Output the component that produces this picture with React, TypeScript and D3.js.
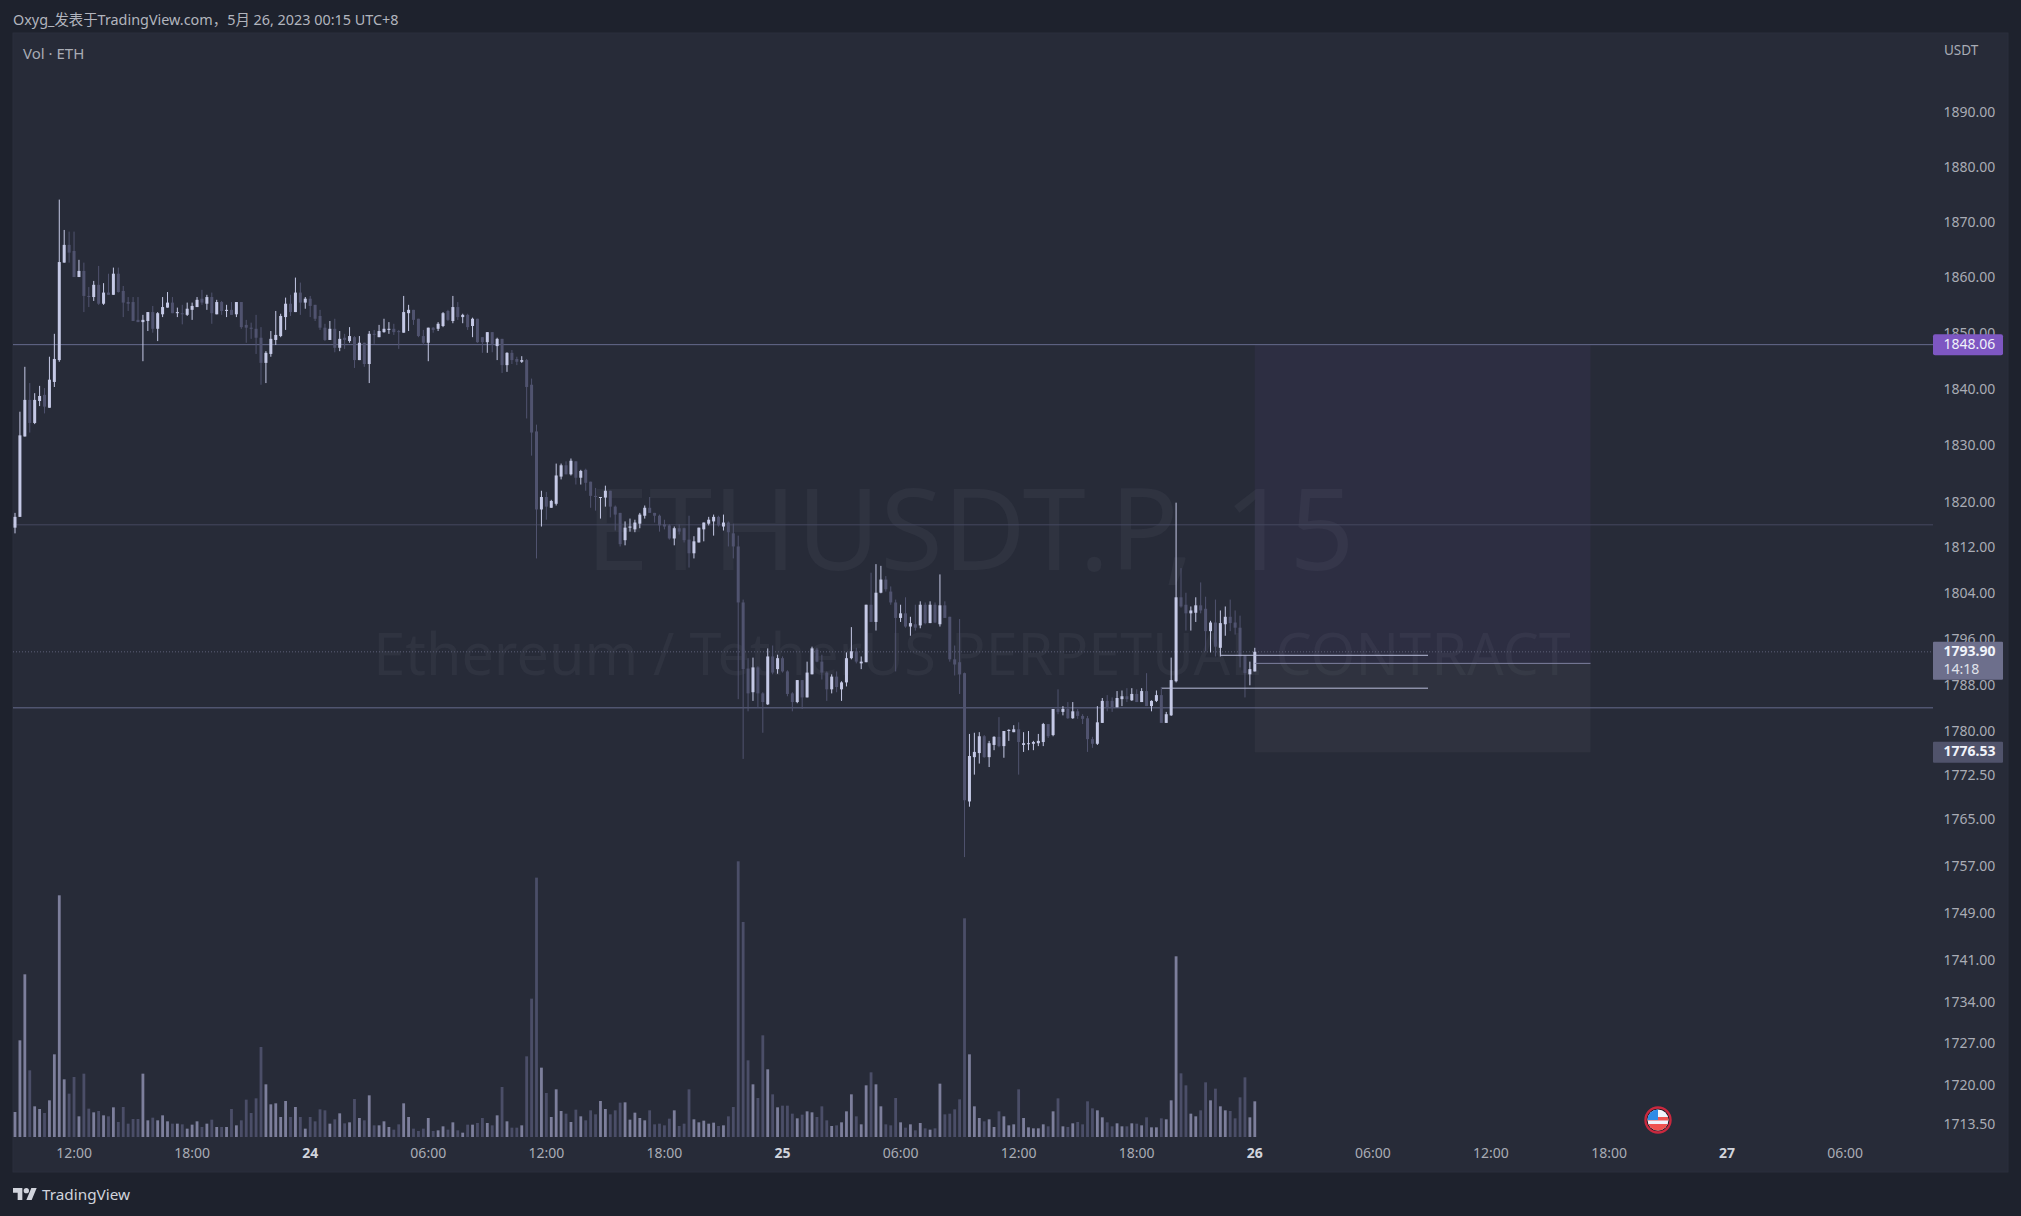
import React from 'react';
import * as d3 from 'd3';

const WIDTH = 2021;
const HEIGHT = 1216;

// ETHUSDT.P 15m candles
const opens = [
  1815.6,1817.5,1831.7,1838.2,1834.1,1838.0,1839.1,1836.8,1841.4,1845.3,
  1862.8,1866,1864.9,1860.2,1861.3,1856.8,1856.6,1858.8,1855.4,1857.4,
  1857,1860.8,1857.7,1855.7,1855.7,1852.5,1852.1,1852.3,1853.9,1850.9,
  1853.5,1854.7,1855.6,1853.7,1853.7,1853.4,1854.3,1854.8,1856.3,1855.4,
  1856.6,1853.5,1855.7,1854.1,1854.3,1853.5,1855.7,1851.6,1851.1,1850.9,
  1849.3,1844.8,1846.4,1848.9,1849.6,1853,1855.4,1853.9,1857.4,1855.6,
  1856.3,1855.2,1853.2,1851.1,1848.9,1850.9,1847.5,1849.3,1848.7,1849.4,
  1845.3,1848.4,1844.6,1850,1849.4,1850.3,1850.7,1850.9,1850.5,1850.2,
  1853.7,1854.3,1852.7,1849.6,1848.4,1851.1,1850.9,1851.4,1854.1,1852.3,
  1854.8,1853,1853.4,1851.4,1852.7,1849.4,1848.5,1850.3,1847.8,1849.1,
  1844.4,1846.6,1845.5,1845,1845.3,1840.9,1832.6,1818.8,1821,1819.1,
  1819.8,1824.6,1826.6,1825,1827.3,1824.4,1825.8,1823.7,1821.2,1820.9,
  1820.9,1822.1,1819.3,1818.2,1813.4,1815.6,1815.3,1816.3,1817.7,1819.1,
  1818.2,1817.7,1816.2,1816,1813.7,1815.5,1815.5,1813.5,1811.1,1813,
  1815.3,1816.3,1816.7,1817.5,1815.8,1816.5,1814.6,1812.3,1802.5,1791,
  1786.9,1791.2,1786.7,1784.8,1793.1,1790.9,1792.8,1790.5,1786.7,1785.2,
  1789,1786,1790,1794.3,1792.2,1790.3,1787.4,1789.6,1787.4,1788.6,
  1792.8,1794,1791.9,1792.1,1802.1,1799.1,1804.2,1806.5,1804.4,1802.5,
  1799.8,1800.6,1798.3,1798.7,1798.5,1802.1,1798.9,1802.1,1798.7,1802,
  1800,1792.6,1792.1,1790.2,1768.1,1775.7,1776.4,1779.3,1775.7,1777.8,
  1779.2,1777.6,1780.2,1780,1780.5,1777.8,1778,1778,1778.1,1778.3,
  1781.4,1779.5,1784,1783.5,1784,1782.4,1783.6,1782.8,1782.4,1778.8,
  1778,1781.6,1785.4,1785.4,1784.3,1785.7,1786.2,1785.5,1786.6,1785.2,
  1787.1,1784.5,1785.4,1786.4,1781.6,1782.9,1788.8,1803.4,1802.1,1800.6,
  1800.7,1802,1801.4,1797.5,1799,1794.6,1798.7,1800,1799,1798.1,
  1793.3,1790,1790.5,
];

const closes = [
  1817.5,1831.9,1838.2,1834.1,1838.2,1838.9,1837,1841.8,1845.5,1862.9,
  1866,1864.6,1860.2,1861.3,1856.8,1856.6,1858.8,1855.4,1857.4,1857,
  1860.8,1857.5,1855.6,1855.4,1852.3,1852.1,1852.5,1853.9,1850.9,1853.7,
  1854.8,1855.6,1853.7,1853.9,1853.5,1854.5,1855,1856.1,1855.6,1856.6,
  1853.7,1855.7,1854.1,1854.3,1853.4,1855.7,1851.2,1851.1,1850.9,1849.3,
  1844.8,1846.6,1849.1,1849.8,1853.2,1855.4,1853.9,1857.4,1855.6,1856.3,
  1855,1852.7,1851.1,1848.9,1850.9,1847.5,1849.1,1848.9,1849.6,1845.3,
  1848.4,1844.6,1850,1849.8,1850.5,1850.9,1850.9,1850.3,1850.3,1853.9,
  1854.3,1852.5,1849.6,1848.4,1851.1,1850.7,1851.8,1853.7,1852.5,1854.8,
  1853,1853.4,1851.2,1852.7,1848.5,1848.5,1850.3,1848.2,1849.1,1844.4,
  1846.6,1845.3,1845,1845.3,1840.5,1832.4,1818.8,1821,1819.3,1820.3,
  1824.8,1826.6,1825,1827.4,1824.4,1825.6,1823.5,1821.2,1821,1821,
  1822.1,1819.3,1817.9,1812.7,1815.6,1815.8,1816.5,1817.9,1819.1,1818.2,
  1817.7,1816,1815.8,1813.7,1815.5,1814.9,1813.4,1811.1,1813.2,1815.6,
  1816.5,1817,1817.5,1816,1816.5,1814.8,1812.3,1802.5,1790.9,1786.7,
  1791.2,1786.7,1785.2,1793.1,1790.3,1792.8,1790.5,1786.6,1785.2,1789,
  1786,1790.3,1794.5,1792.2,1790.3,1787.4,1789.6,1787.8,1788.6,1792.8,
  1794,1792.2,1792.2,1802.1,1799.1,1804.2,1806.5,1804.8,1802.5,1799.8,
  1800.6,1798.3,1798.9,1798.1,1802.1,1798.9,1802.1,1799,1802,1799.8,
  1792.6,1791.7,1790,1768.3,1775.9,1776.6,1779.3,1775.7,1778.1,1779.2,
  1777.6,1780.2,1780.4,1780.5,1778.3,1778.1,1778.1,1778.3,1778.5,1781.4,
  1779.3,1784,1783.5,1784,1782.4,1783.6,1782.8,1782.3,1778.8,1778,
  1781.7,1785.4,1784.3,1784.3,1785.9,1786.2,1785.7,1786.6,1785.2,1787.1,
  1784.5,1785.4,1786.4,1781.6,1783.1,1789,1803.4,1801.8,1800.6,1801.1,
  1802,1801.1,1797.5,1799,1794.8,1798.9,1800,1798.9,1798.1,1793.1,
  1790.2,1790.9,1793.9,
];

const highs = [
  1818.2,1836.1,1844.1,1841.2,1839.4,1840.7,1840.3,1845.9,1850,1874.2,
  1868.7,1868.4,1868.4,1863.3,1862.8,1858.4,1859.5,1862.2,1859.1,1860.8,
  1861.9,1861.9,1858.6,1856.6,1856.6,1856.6,1853.4,1853.9,1855,1853.9,
  1856.6,1857.5,1856.6,1854.7,1855.2,1855.6,1855.6,1856.6,1857.9,1857,
  1857.4,1856.1,1855.9,1855.2,1855.7,1855.7,1855.7,1852.5,1852,1853.4,
  1851.2,1846.9,1850.5,1854.1,1853.6,1856.5,1857,1860.1,1859.2,1856.6,
  1856.8,1855.2,1854.3,1851.8,1852.3,1852.7,1850.5,1850,1851.2,1849.6,
  1849.6,1848.4,1850.5,1850.7,1851.6,1852.7,1852.1,1851.8,1850.7,1856.8,
  1855.2,1854.3,1852.7,1850.7,1851.1,1851.2,1852.1,1853.9,1854.3,1856.8,
  1855.7,1853.6,1853.6,1852.9,1852.7,1849.4,1850.3,1850.3,1849.3,1849.1,
  1846.7,1847.1,1845.9,1846,1845.5,1842,1833.8,1822.1,1821.9,1820.5,
  1826.9,1826.9,1827.3,1827.8,1827.3,1825.8,1826,1823.7,1822.6,1821,
  1823,1822.1,1819.5,1818.2,1816.7,1817.2,1817,1818.2,1819.5,1821,
  1818.2,1817.9,1817,1816.2,1815.8,1816.2,1815.6,1817.7,1814.1,1815.6,
  1816.5,1817.5,1817.9,1817.7,1817.9,1816.7,1816.3,1814.2,1803,1792.8,
  1792.9,1791.4,1786.9,1794.5,1795,1793.4,1793.1,1790.7,1786.9,1789,
  1789,1792.2,1794.8,1794.6,1793.4,1790.5,1790,1790.5,1788.8,1793.8,
  1798.2,1794.6,1793.1,1802.1,1807.7,1809.2,1808.9,1807.1,1805.3,1803,
  1802.1,1803.4,1800,1802.1,1802.7,1802.5,1802.7,1802.5,1807.4,1802.7,
  1800,1795,1799.6,1790.3,1779.7,1779.9,1780,1779.5,1778.5,1779.3,
  1782.6,1780.2,1780.5,1781.2,1781.7,1780,1780.2,1778.5,1779.7,1781.6,
  1781.4,1784,1787.4,1784.5,1785.2,1785.2,1784,1783.1,1782.8,1779.2,
  1784.5,1785.9,1786.4,1786,1787.1,1787.2,1787.6,1787.6,1787.4,1787.6,
  1790.2,1785.5,1787.2,1787.8,1783.5,1792.9,1820,1808.5,1804.2,1801.8,
  1803.4,1806,1803.5,1799.3,1803,1801.1,1801.8,1803,1801.1,1800.2,
  1793.3,1792.2,1794.6,
];

const lows = [
  1814.6,1817.5,1831.7,1832.4,1833.9,1837.1,1835.8,1836.8,1840.5,1845,
  1862.8,1862.8,1860.2,1860.2,1853.9,1854.8,1855.9,1855.2,1855.2,1857,
  1857,1857.4,1853,1854.1,1852.3,1852.1,1845.1,1850.5,1850.2,1848.7,
  1853,1854.7,1853.7,1853,1851.7,1853.2,1852.5,1854.8,1855.2,1854.3,
  1851.8,1853.5,1853.4,1853,1853.4,1853,1850.9,1848.4,1849.1,1846.4,
  1840.9,1841.2,1845.9,1848,1849.4,1850.7,1853.2,1853.9,1853.4,1854.5,
  1853,1852.3,1850.7,1848.7,1848.9,1846.7,1846.9,1847.3,1848.4,1843.9,
  1845.3,1844.1,1841.2,1848.2,1849.4,1850.2,1850,1849.8,1847.3,1850.2,
  1850.5,1851.6,1849.4,1848,1845.1,1850.2,1850.5,1851.2,1852.3,1851.9,
  1852.5,1851.9,1850.7,1849.4,1848.4,1846.6,1846.6,1846.7,1845.3,1843,
  1843.2,1844.6,1844.4,1844.8,1834.9,1828.3,1810.2,1815.8,1817,1819.1,
  1819.5,1824.1,1825,1824.8,1823.2,1823.2,1822.1,1819.1,1818.6,1817.2,
  1819.3,1817.4,1815.1,1812.3,1812.5,1814.9,1814.8,1815.5,1817.2,1818.2,
  1816.5,1814.9,1815.3,1813.5,1812.5,1814.4,1813,1808.6,1810.2,1813,
  1813.2,1816,1814.2,1815.8,1815.1,1812.3,1810.2,1785.7,1775.4,1783.6,
  1785.4,1784.3,1779.9,1784.7,1790,1790.1,1790.3,1786.2,1783.6,1785,
  1784,1786,1790,1792.1,1789.1,1785.4,1786.7,1786.9,1785.4,1787.9,
  1792.6,1791.9,1790.9,1792.1,1799.1,1797.6,1804.1,1804.4,1802.1,1790.5,
  1799.1,1798.1,1796.7,1797.6,1798,1798.7,1798.9,1798.9,1798.3,1799.8,
  1792.2,1789.8,1786.6,1758.6,1767.2,1772.7,1774.6,1775.6,1774,1776.9,
  1777.4,1775.6,1778.5,1780,1772.7,1776.6,1776.9,1776.9,1777.6,1777.6,
  1779,1779.3,1783.1,1782.9,1782.3,1782.3,1782.3,1781.4,1776.6,1777.3,
  1777.8,1781.6,1783.6,1783.5,1784.3,1784.5,1785.2,1785.4,1785.2,1785.2,
  1784.5,1783.6,1785.2,1781.6,1781.6,1782.8,1788.6,1801.6,1797.6,1797.6,
  1799.1,1800.6,1794,1793.8,1793.1,1793.1,1796.7,1797.5,1796.9,1791.2,
  1786,1788.1,1790.5,
];

const volumes = [
  7.5,29,48.8,20,9.2,8.4,7.2,11,24.8,72.5,
  17.3,13,18,6.2,19,8.5,7.4,7.8,6.5,6.2,
  8.9,4.5,9,4,5.4,5.4,19,5,5.8,5,
  6.5,4.7,4,4,3.8,2.5,3.7,4.7,3,4,
  5.2,3,3,3,8.4,3.5,5,11.2,7.2,11.6,
  27,15.8,9.8,10.1,6,10.8,6,9,6,2.5,
  6,4.7,8.3,8,4,5.3,7.1,4.1,4.4,11.4,
  5.7,5,12.5,3.5,3.5,4.7,3,2.2,3.8,10.1,
  6,2.5,1.8,2.5,5.7,1.8,2,3.2,2.2,4.4,
  2,1.3,3.7,3.7,4.2,5.7,4.2,3.5,6.5,15,
  4.7,2.8,2.8,3.5,24.2,41.5,77.8,20.8,13.2,6,
  14.3,7.8,7,4.5,8.2,6.2,5,8,6.8,10.8,
  8.4,6.8,8,10.3,10.4,5.2,7.3,5.7,5,8,
  3.8,4,3.5,5.5,8,3.3,4,14.3,5.3,4.4,
  4.9,4,4.3,3.3,3.5,6.2,9,82.7,64.5,23,
  15.8,11.7,30.5,20.3,12.8,8.9,9.4,9.4,7,5.6,
  6.7,7.7,7.4,6,9.2,5,3.3,3.5,4.4,7.7,
  12.8,6.2,3.8,15.5,19.4,15.8,9.2,3.8,3.5,11.7,
  4.4,2.8,3.8,2,4.2,2.6,2.2,2.6,16,6.8,
  7,8.3,11.3,65.6,24.8,9.2,5.7,4.7,5.3,3,
  7.7,6.2,3.5,3.8,14.3,5.7,2.9,2.6,2.6,3.8,
  3.2,7.7,11.6,3.2,3,4.1,4.5,3.8,10.7,8.6,
  8,5.9,4.4,3.2,4.1,3.2,3.2,4.1,4,3.5,
  5.9,2.9,2.9,5.6,5.3,11,54.2,19.1,15.5,7,
  6.2,8,16.4,11,14.5,9.2,8,7.8,5.6,11.9,
  17.9,5.9,10.7,
];

const priceTicks = [
  1890, 1880, 1870, 1860, 1850, 1840, 1830, 1820, 1812, 1804, 1796, 1788, 1780,
  1772.5, 1765, 1757, 1749, 1741, 1734, 1727, 1720, 1713.5,
];

const timeTickBars = [12, 36, 60, 84, 108, 132, 156, 180, 204, 228, 252, 276, 300, 324, 348, 372];
const timeTickLabels = ['12:00', '18:00', '24', '06:00', '12:00', '18:00', '25', '06:00', '12:00', '18:00', '26', '06:00', '12:00', '18:00', '27', '06:00'];
const dayLabels = ['24', '25', '26', '27'];

// drawn levels
const resistance = 1848.06;
const support = 1784.2;
const midLevel = 1816.1;
const lastPrice = 1793.9;
const stopLevel = 1776.53;
const entryLevel = 1791.9;
const rayHigh = 1793.3;
const rayLow = 1787.6;

const FONT = '"Noto Sans", "Noto Sans CJK SC", sans-serif';
const COLORS = {
  outer: '#1e222d',
  panel: '#272b38',
  up: '#c5c9e6',
  down: '#50536f',
  volUp: '#7d7f9c',
  volDown: '#4b4e68',
  level: '#666a8c',
  text: '#a9acb5',
  watermark: '#2f3340',
};

const x = d3.scaleLinear().domain([0, 252]).range([15, 1254.8]);
const y = d3.scaleLog().domain([1890, 1713.5]).range([112.9, 1125.4]);
const yVol = d3.scaleLinear().domain([0, 82.7]).range([1137, 861.3]);

const App: React.FC = () => {
  const bars = d3.range(opens.length);
  const rectLeft = x(252);
  const rectRight = 1590.5;
  const rayEnd = 1428;

  return (
    <svg
      width={WIDTH}
      height={HEIGHT}
      viewBox={`0 0 ${WIDTH} ${HEIGHT}`}
      style={{ position: 'absolute', left: 0, top: 0, display: 'block' }}
      fontFamily={FONT}
    >
      <rect width={WIDTH} height={HEIGHT} fill={COLORS.outer} />
      <rect x={13} y={33} width={1995} height={1139} fill={COLORS.panel} stroke="#2b2f3c" />

      {/* Header */}
      <text x={13} y={25} fontSize={14.4} fill="#b2b5be">
        Oxyg_发表于TradingView.com，5月 26, 2023 00:15 UTC+8
      </text>
      <text x={23} y={58.5} fontSize={15} fill={COLORS.text}>Vol · ETH</text>

      {/* Watermark */}
      <text x={970} y={570} fontSize={114} textAnchor="middle" fill={COLORS.watermark}>ETHUSDT.P, 15</text>
      <text x={972} y={675} fontSize={57.5} textAnchor="middle" fill={COLORS.watermark}>
        Ethereum / TetherUS PERPETUAL CONTRACT
      </text>

      {/* Long position box */}
      <rect x={rectLeft} y={y(resistance)} width={rectRight - rectLeft} height={y(entryLevel) - y(resistance)} fill="#7e57c2" opacity={0.08} />
      <rect x={rectLeft} y={y(entryLevel)} width={rectRight - rectLeft} height={y(stopLevel) - y(entryLevel)} fill="#9598a1" opacity={0.07} />

      {/* Horizontal levels */}
      <line x1={13} x2={1933} y1={y(resistance)} y2={y(resistance)} stroke={COLORS.level} />
      <line x1={13} x2={1933} y1={y(midLevel)} y2={y(midLevel)} stroke="#45485f" />
      <line x1={13} x2={1933} y1={y(support)} y2={y(support)} stroke={COLORS.level} />
      <line x1={13} x2={1933} y1={y(lastPrice)} y2={y(lastPrice)} stroke="#5d6078" strokeDasharray="1,2" />

      {/* Volume */}
      {bars.map(i => (
        <rect
          key={`vol-${i}`}
          x={x(i) - 1.4}
          y={yVol(volumes[i])}
          width={2.8}
          height={yVol(0) - yVol(volumes[i])}
          fill={closes[i] >= opens[i] ? COLORS.volUp : COLORS.volDown}
        />
      ))}

      {/* Candles */}
      {bars.map(i => {
        const color = closes[i] >= opens[i] ? COLORS.up : COLORS.down;
        const top = y(Math.max(opens[i], closes[i]));
        const bottom = y(Math.min(opens[i], closes[i]));
        return (
          <g key={`candle-${i}`} fill={color}>
            <rect x={x(i) - 0.5} y={y(highs[i])} width={1} height={y(lows[i]) - y(highs[i])} />
            <rect x={x(i) - 1.5} y={top} width={3} height={Math.max(1, bottom - top)} />
          </g>
        );
      })}

      {/* Rays and entry line */}
      <line x1={1221} x2={rayEnd} y1={y(rayHigh)} y2={y(rayHigh)} stroke="#b9bddb" />
      <line x1={1162} x2={rayEnd} y1={y(rayLow)} y2={y(rayLow)} stroke="#b9bddb" />
      <line x1={rectLeft} x2={rectRight} y1={y(entryLevel)} y2={y(entryLevel)} stroke="#7f81a0" />

      {/* Price scale */}
      <text x={1944} y={55} fontSize={13.5} fill={COLORS.text}>USDT</text>
      {priceTicks.map(p => (
        <text key={p} x={1943.5} y={y(p) - 1} dy="0.36em" fontSize={14} fill={COLORS.text}>
          {d3.format('.2f')(p)}
        </text>
      ))}
      <rect x={1933} y={y(resistance) - 10.5} width={70} height={21} rx={2} fill="#7e57c2" />
      <text x={1943.5} y={y(resistance) - 1} dy="0.36em" fontSize={14} fill="#f0f3fa">{d3.format('.2f')(resistance)}</text>
      <rect x={1933} y={y(lastPrice) - 10} width={70} height={38} rx={1} fill="#6d6f8c" />
      <text x={1943.5} y={y(lastPrice) - 1} dy="0.36em" fontSize={14} fontWeight="bold" fill="#f0f3fa">{d3.format('.2f')(lastPrice)}</text>
      <text x={1943.5} y={y(lastPrice) + 17} dy="0.36em" fontSize={14} fill="#e0e3eb">14:18</text>
      <rect x={1933} y={y(stopLevel) - 10.5} width={70} height={21} rx={1} fill="#50536b" />
      <text x={1943.5} y={y(stopLevel) - 1} dy="0.36em" fontSize={14} fontWeight="bold" fill="#f0f3fa">{d3.format('.2f')(stopLevel)}</text>

      {/* Time scale */}
      {timeTickBars.map((b, i) => {
        const isDay = dayLabels.includes(timeTickLabels[i]);
        return (
          <text
            key={`time-${b}`}
            x={x(b)}
            y={1153}
            dy="0.36em"
            textAnchor="middle"
            fontSize={14}
            fontWeight={isDay ? 'bold' : 'normal'}
            fill={isDay ? '#d1d4dc' : COLORS.text}
          >
            {timeTickLabels[i]}
          </text>
        );
      })}

      {/* US event marker */}
      <g transform="translate(1658, 1120)">
        <clipPath id="flag-clip"><circle r={10.5} /></clipPath>
        <circle r={12.5} fill="#131722" stroke="#c9283e" strokeWidth={2.4} />
        <g clipPath="url(#flag-clip)">
          <rect x={-11} y={-11} width={22} height={22} fill="#f0f3fa" />
          <rect x={-11} y={-3} width={22} height={3.5} fill="#ef5350" />
          <rect x={-11} y={4} width={22} height={7} fill="#ef5350" />
          <rect x={-11} y={-11} width={11} height={11} fill="#2f8be6" />
        </g>
      </g>

      {/* Logo */}
      <g transform="translate(13, 1185.3) scale(0.667)" fill="#d1d4dc">
        <path d="M14 22H7V11H0V4h14v18zM28 22h-8l7.5-18h8L28 22z" />
        <circle cx={20} cy={8} r={4} />
      </g>
      <text x={42} y={1200} fontSize={15.3} fill="#d1d4dc">TradingView</text>
    </svg>
  );
};

export default App;
